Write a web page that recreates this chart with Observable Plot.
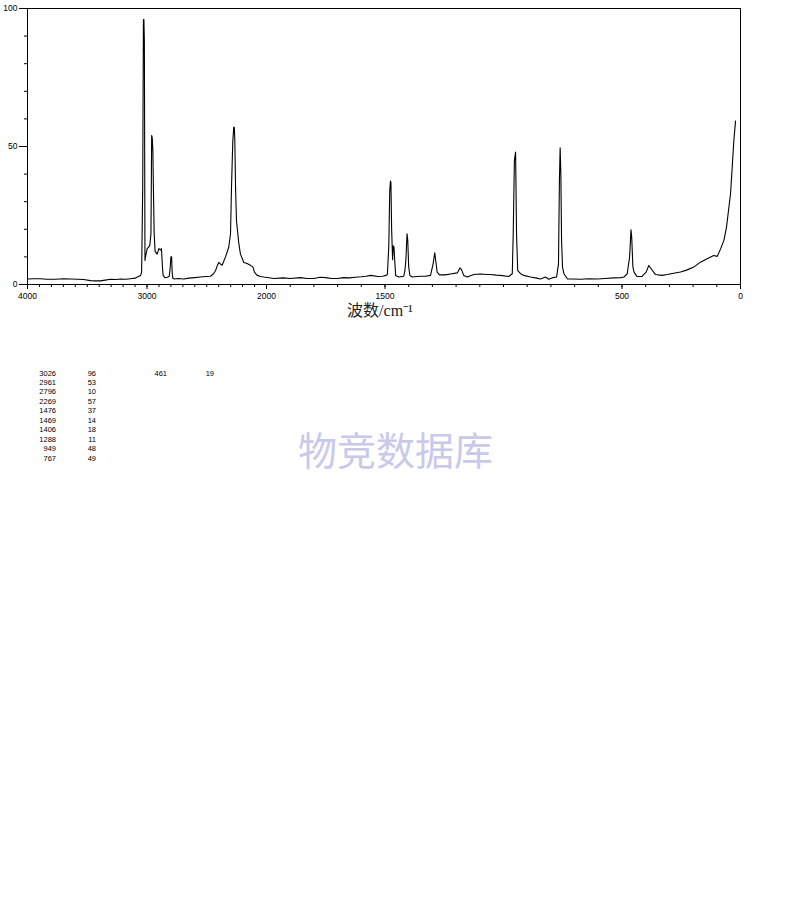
<!DOCTYPE html>
<html><head><meta charset="utf-8">
<script src="https://cdn.jsdelivr.net/npm/d3@7"></script>
<script src="https://cdn.jsdelivr.net/npm/@observablehq/plot@0.6"></script>
<style>
body{margin:0;background:#fff;}
#page{position:relative;width:794px;height:907px;overflow:hidden;background:#fff;}
#chart{position:absolute;left:0;top:0;}
.cell{position:absolute;width:40px;text-align:right;font-family:"Liberation Sans",sans-serif;font-size:7.5px;line-height:9.45px;color:#000;white-space:nowrap;}
#wm{position:absolute;left:298px;top:429px;font-family:"Noto Sans CJK SC",sans-serif;font-size:39px;line-height:39px;color:#c9c9ec;white-space:nowrap;}
</style></head><body>
<div id="page"><div id="chart"></div><div id="wm">物竞数据库</div></div>
<script>
// Spectrum (wavenumber cm-1, intensity %)
const wavenumber = [4000,3950,3891,3840,3766,3700,3640,3580,3531,3473,3430,3389,3350,3305,3260,3222,3180,3138,3100,3080,3054,3045,3036,3030,3026,3022,3019,3017,3013,2999,2977,2967,2964,2961,2956,2951,2946,2940,2932,2915,2901,2887,2879,2870,2865,2850,2830,2814,2806,2800,2794,2789,2784,2770,2740,2692,2650,2600,2552,2510,2469,2445,2427,2410,2399,2385,2371,2343,2316,2301,2293,2282,2274,2269,2265,2259,2251,2232,2218,2190,2162,2135,2113,2101,2078,2050,2023,1969,1930,1900,1856,1830,1800,1775,1750,1725,1700,1675,1650,1625,1600,1580,1560,1530,1510,1495,1490,1484,1480,1477,1475,1472,1468,1465,1462,1459,1455,1442,1421,1416,1412,1407,1404,1400,1395,1385,1364,1350,1329,1308,1297,1290,1286,1280,1270,1245,1224,1195,1184,1177,1168,1153,1125,1097,1069,1055,1030,1013,978,963,959,954,949,945,940,928,914,886,860,844,823,809,790,776,768,764,761,758,755,751,745,730,710,675,640,605,570,535,505,492,478,468,462,459,454,449,437,415,412,398,387,377,359,331,309,282,253,225,197,169,141,113,98,84,70,59,49,42,35,28,21];
const intensity = [2.0,2.1,2.1,1.9,1.9,2.1,2.0,1.9,1.8,1.4,1.3,1.3,1.6,1.9,1.8,2.0,1.9,2.1,2.3,2.7,3.3,4.5,35,96,96,88,40,8.7,9.9,12.9,14.1,18.4,35,54,53,48.5,34,18.5,12,11,13,12.5,13,5.8,3.3,2.5,2.6,3.0,6,10,10,4,2.3,2.0,2.2,2.0,2.3,2.5,2.7,2.9,3.0,3.8,5,7,8,7.4,7,10,13.5,18.4,35,52,57,57,52,35,23,15,11,8,7.6,7,6.3,4.5,3.3,2.9,2.7,2.2,2.4,2.2,2.5,2.2,2.2,2.6,2.5,2.2,2.2,2.5,2.4,2.6,2.8,3.0,3.3,2.9,3.0,3.3,3.6,13.8,34,37.5,37,20,9,14,13.5,8.7,3.3,2.7,3.0,5,8.7,18.4,16,6.3,3.3,2.7,2.9,3.0,3.0,3.3,7.5,11.5,8.7,4.5,3.5,3.5,3.8,4.2,6,5.4,3.3,2.7,3.6,3.8,3.6,3.6,3.4,3.3,2.9,3.9,18.4,45,48,18.4,5,3.9,3.3,2.7,2.3,2.0,2.7,1.9,2.5,2.7,7.5,37.7,49.5,40,16,6.3,3.9,2.0,2.0,1.9,2.1,2.0,2.2,2.4,2.5,2.7,3.9,9.9,19.8,17.1,6.3,4.5,2.9,2.9,3.3,4.5,6.9,5.7,3.6,3.3,3.6,4.1,4.5,5.3,6.3,8.1,9.3,10.5,10.2,12.9,16,20.8,28,32.9,42.5,52.2,59.2];

// Peak table
const peakWavenumber = [3026,2961,2796,2269,1476,1469,1406,1288,949,767,461];
const peakIntensity  = [96,53,10,57,37,14,18,11,48,49,19];

// Axes
const xMajorTicks = [4000,3000,2000,1500,500,0];
const yMajorTicks = [0,50,100];
const xLabel = "波数/cm⁻¹";

const data = wavenumber.map((w, i) => ({w, v: intensity[i]}));

const plot = Plot.plot({
  width: 794, height: 330,
  marginLeft: 27, marginRight: 54, marginTop: 8, marginBottom: 46,
  style: {background: "#fff", color: "#000", fontFamily: "Liberation Sans, sans-serif", overflow: "visible"},
  x: {type: "linear", domain: [4000, 2000, 0], range: [27, 266, 740]},
  y: {domain: [0, 100]},
  marks: [
    Plot.frame({stroke: "#000", strokeWidth: 1}),
    Plot.axisX(d3.range(0, 4001, 100), {tickSize: 3, tickFormat: () => "", label: null, stroke: "#000"}),
    Plot.axisX(xMajorTicks, {tickSize: 5, tickPadding: 3, fontSize: 8.5, label: null, tickFormat: d => String(d), stroke: "#000"}),
    Plot.axisY(d3.range(0, 101, 10), {tickSize: 3, tickFormat: () => "", label: null, stroke: "#000"}),
    Plot.axisY(yMajorTicks, {tickSize: 8, tickPadding: 2, fontSize: 8.5, label: null, stroke: "#000"}),
    Plot.line(data, {x: "w", y: "v", stroke: "#000", strokeWidth: 1.1}),
    Plot.text([xLabel], {text: d => d, frameAnchor: "bottom", dy: 31, dx: -4, fontSize: 16,
      fontFamily: "'Liberation Serif','Noto Sans CJK SC',serif", fill: "#222"})
  ]
});
document.getElementById("chart").appendChild(plot);

// Peak table as text below the chart
const page = document.getElementById("page");
const rowTop0 = 368.5, rowStep = 9.45;
const colRights = [[56, 96], [167, 214]];
peakWavenumber.forEach((w, i) => {
  const col = Math.floor(i / 10), row = i % 10;
  [w, peakIntensity[i]].forEach((val, k) => {
    const d = document.createElement("div");
    d.className = "cell";
    d.textContent = String(val);
    d.style.left = (colRights[col][k] - 40) + "px";
    d.style.top = (rowTop0 + row * rowStep) + "px";
    page.appendChild(d);
  });
});
</script>
</body></html>
